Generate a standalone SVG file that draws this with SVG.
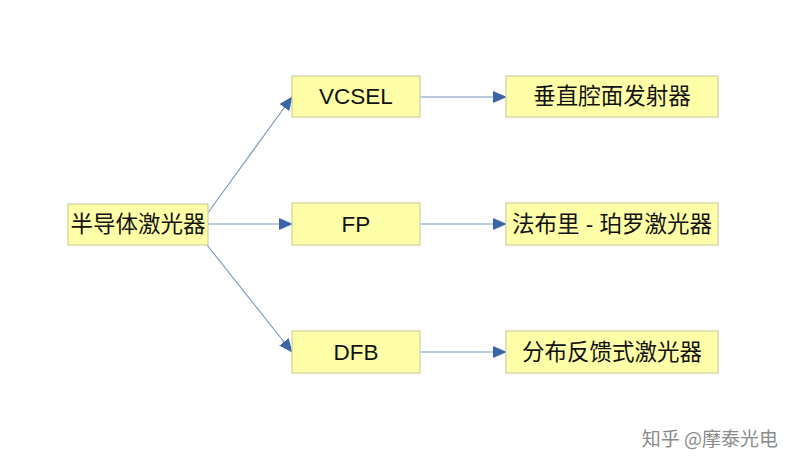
<svg xmlns="http://www.w3.org/2000/svg" width="800" height="471" viewBox="0 0 800 471">
<style>
.b{fill:#ffffa8;stroke:#cfcfa0;stroke-width:1.2}
.t{font-family:"Liberation Sans","Noto Sans CJK SC",sans-serif;font-size:22.5px;fill:#111;text-anchor:middle;dominant-baseline:central}
.c line{stroke:#7895bd;stroke-width:1.1;marker-end:url(#a)}
</style>
<defs><marker id="a" markerWidth="14" markerHeight="12" refX="13" refY="6" orient="auto" markerUnits="userSpaceOnUse"><path d="M0,0L14,6L0,12Z" fill="#3a66a8"/></marker></defs>
<rect width="800" height="471" fill="#fff"/>
<g class="c">
<line x1="207" y1="214" x2="292" y2="97"/>
<line x1="208" y1="224" x2="292" y2="224"/>
<line x1="207" y1="245" x2="292" y2="352"/>
<line x1="420" y1="97" x2="506" y2="97"/>
<line x1="420" y1="224" x2="506" y2="224"/>
<line x1="420" y1="352" x2="506" y2="352"/>
</g>
<g id="n0"><rect class="b" x="68" y="204" width="140" height="41"/><text class="t" x="138" y="224.5">半导体激光器</text></g>
<g id="n1"><rect class="b" x="292" y="76" width="128" height="41"/><text class="t" x="356" y="96.5">VCSEL</text></g>
<g id="n2"><rect class="b" x="292" y="203" width="128" height="42"/><text class="t" x="356" y="224">FP</text></g>
<g id="n3"><rect class="b" x="292" y="331" width="128" height="42"/><text class="t" x="356" y="352">DFB</text></g>
<g id="n4"><rect class="b" x="506" y="76" width="212" height="41"/><text class="t" x="612" y="96.5">垂直腔面发射器</text></g>
<g id="n5"><rect class="b" x="506" y="203" width="212" height="42"/><text class="t" x="612" y="224">法布里 - 珀罗激光器</text></g>
<g id="n6"><rect class="b" x="506" y="331" width="212" height="42"/><text class="t" x="612" y="352">分布反馈式激光器</text></g>
<text x="778" y="437" font-family="Noto Sans CJK SC,sans-serif" font-size="19" fill="#8a8a8a" text-anchor="end" dominant-baseline="central">知乎 @摩泰光电</text>
</svg>
